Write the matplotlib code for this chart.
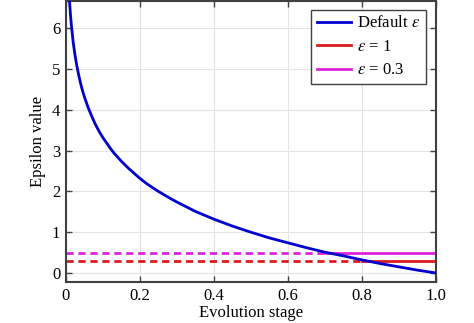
import matplotlib
matplotlib.use('Agg')
import matplotlib.pyplot as plt

plt.rcParams.update({
    'font.family': 'serif', 'font.serif': ['Liberation Serif', 'DejaVu Serif'],
    'mathtext.fontset': 'stix', 'font.size': 12,
})

# Default epsilon curve
stage = [0.008, 0.01, 0.012, 0.015, 0.02, 0.025, 0.03, 0.035, 0.04, 0.045, 0.05, 0.06,
         0.07, 0.08, 0.09, 0.1, 0.12, 0.13, 0.15, 0.17, 0.2, 0.22, 0.25, 0.28, 0.3,
         0.35, 0.4, 0.45, 0.5, 0.55, 0.6, 0.65, 0.7, 0.75, 0.8, 0.85, 0.9, 0.95, 1.0]
eps_default = [6.97, 6.64, 6.38, 6.06, 5.64, 5.32, 5.06, 4.84, 4.64, 4.47, 4.32, 4.06,
               3.84, 3.64, 3.47, 3.32, 3.06, 2.94, 2.74, 2.56, 2.32, 2.18, 2.0, 1.84, 1.74,
               1.51, 1.32, 1.15, 1.0, 0.86, 0.74, 0.62, 0.51, 0.42, 0.32, 0.23, 0.15, 0.07, 0.0]

# constant epsilon lines: value, stage where the curve crosses them
eps_red = 0.3
cross_red = 0.8
eps_mag = 0.5
cross_mag = 0.7

xticks = [0, 0.2, 0.4, 0.6, 0.8, 1.0]
xticklabels = ['0', '0.2', '0.4', '0.6', '0.8', '1.0']
yticks = [0, 1, 2, 3, 4, 5, 6]

fig = plt.figure(figsize=(4.74, 3.23), dpi=100)
ax = fig.add_axes([0.139, 0.127, 0.781, 0.871])

blue = '#0000d0'
red = '#dd1c1c'
mag = '#dd22dd'
dash = (0, (2.6, 1.7))

ax.plot(stage, eps_default, color=blue, linewidth=2, label=r'Default $\epsilon$', zorder=4)
ax.plot([0, cross_red], [eps_red, eps_red], color=red, linewidth=2, linestyle=dash)
ax.plot([cross_red, 1.0], [eps_red, eps_red], color=red, linewidth=2, label=r'$\epsilon$ = 1')
ax.plot([0, cross_mag], [eps_mag, eps_mag], color=mag, linewidth=2, linestyle=dash)
ax.plot([cross_mag, 1.0], [eps_mag, eps_mag], color=mag, linewidth=2, label=r'$\epsilon$ = 0.3')

ax.set_xlim(0, 1)
ax.set_ylim(-0.22, 6.68)
ax.set_xticks(xticks)
ax.set_xticklabels(xticklabels)
ax.set_yticks(yticks)
ax.set_xlabel('Evolution stage', labelpad=1)
ax.set_ylabel('Epsilon value', labelpad=4)

ax.grid(True, color='#e4e4e4', linewidth=0.8)
ax.set_axisbelow(True)
ax.tick_params(direction='in', top=True, right=True, length=4, width=1,
               color='#404040', labelsize=12, pad=4)
for s in ax.spines.values():
    s.set_color('#404040')
    s.set_linewidth(1.5)

leg = ax.legend(loc='upper right', fancybox=False, edgecolor='#404040',
                framealpha=1, fontsize=12, handlelength=2.0, borderpad=0.35,
                labelspacing=0.45, handletextpad=0.4, borderaxespad=0,
                bbox_to_anchor=(0.973, 0.968))
leg.get_frame().set_linewidth(1.0)

fig.savefig('out.png', dpi=100)
